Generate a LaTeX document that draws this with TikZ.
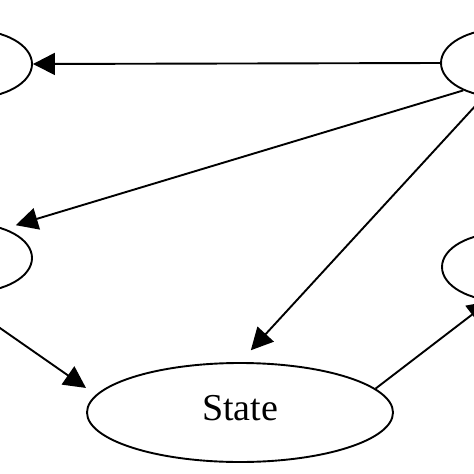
\documentclass[tikz,border=0pt]{standalone}
\usepackage{fontspec}
\setmainfont{Liberation Serif}
\usetikzlibrary{shapes.geometric,arrows.meta}

\begin{document}
\begin{tikzpicture}[x = 1pt, y = -1pt, line width = 1.9pt,
  oval/.style = {ellipse, draw, inner sep = 0pt, minimum width = 120pt, minimum height = 68pt},
  arr/.style = {-{Triangle[length = 22pt, width = 22pt]}}]
\clip (0,0) rectangle (474,474);
\node[oval] (E1) at (-28,64) {};
\node[oval] (E2) at (501,63) {};
\node[oval] (E3) at (-28,258) {};
\node[oval] (E4) at (502,267) {};
\node[oval, minimum width = 306pt, minimum height = 99pt, text height = 15pt, text depth = 0pt,
  font = \fontsize{38}{40}\selectfont] (ST) at (240,412.5) {State};

\draw[arr] (E2.west) -- (E1.east);
\draw[arr, shorten >= 11.5pt] (E2.216) -- (E3.42);
\draw[arr, shorten >= 16pt] (E2.243) -- (ST.north);
\draw[arr, shorten >= 12pt] (E3.228) -- (ST.173);
\draw[arr] (ST.10) -- (E4.250);
\end{tikzpicture}
\end{document}
